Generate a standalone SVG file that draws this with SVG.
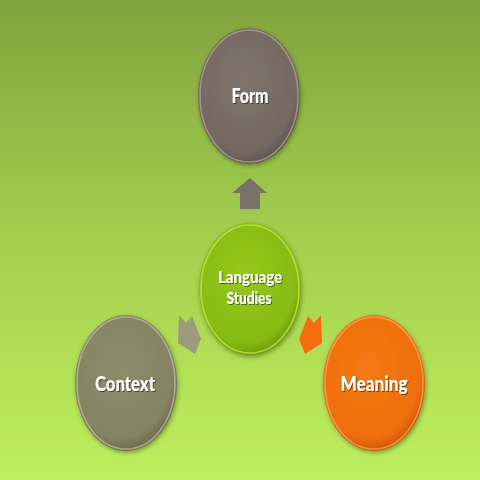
<svg xmlns="http://www.w3.org/2000/svg" width="480" height="480" viewBox="0 0 480 480">
<defs>
<linearGradient id="bg" x1="0" y1="0" x2="0" y2="1">
<stop offset="0" stop-color="#81a33d"/>
<stop offset="0.5" stop-color="#a4cf4e"/>
<stop offset="1" stop-color="#beef5e"/>
</linearGradient>
<radialGradient id="gForm" cx="0.45" cy="0.4" r="0.6">
<stop offset="0" stop-color="#7e746b"/>
<stop offset="0.85" stop-color="#736960"/>
<stop offset="1" stop-color="#5f564f"/>
</radialGradient>
<radialGradient id="gLang" cx="0.45" cy="0.4" r="0.6">
<stop offset="0" stop-color="#94c81c"/>
<stop offset="0.85" stop-color="#86bb12"/>
<stop offset="1" stop-color="#6e9e0c"/>
</radialGradient>
<radialGradient id="gCtx" cx="0.45" cy="0.4" r="0.6">
<stop offset="0" stop-color="#8d8c6c"/>
<stop offset="0.85" stop-color="#848362"/>
<stop offset="1" stop-color="#6c6b50"/>
</radialGradient>
<radialGradient id="gMean" cx="0.45" cy="0.4" r="0.6">
<stop offset="0" stop-color="#f57a14"/>
<stop offset="0.85" stop-color="#ee6e0a"/>
<stop offset="1" stop-color="#cf5a04"/>
</radialGradient>
<filter id="sh" x="-20%" y="-20%" width="140%" height="140%">
<feDropShadow dx="1" dy="2" stdDeviation="2" flood-color="#2a3a10" flood-opacity="0.45"/>
</filter>
<filter id="tsh" x="-20%" y="-30%" width="140%" height="160%">
<feDropShadow dx="1" dy="1" stdDeviation="0.6" flood-color="#000" flood-opacity="0.5"/>
</filter>
</defs>
<style>
.lbl{font-family:"Lato","Open Sans","DejaVu Sans",sans-serif;font-weight:900;fill:#ffffff;text-anchor:middle;filter:url(#tsh)}
.big{font-size:21px}
.small{font-size:16.5px}
.rim{fill:none;stroke-width:1.6;stroke-opacity:0.7}
</style>
<rect x="0" y="0" width="480" height="480" fill="url(#bg)"/>
<g id="connectors">
<polygon points="250,178 232,193 240,193 240,209 260,209 260,193 267,193" fill="#7a716a"/>
<polygon points="179,315 186,323 192,316 201,339 195,354 178,343" fill="#9c9b7c"/>
<polygon points="321,315 314,323 308,316 299,339 305,354 322,343" fill="#f46e10"/>
</g>
<g id="form">
<ellipse cx="249" cy="96" rx="51" ry="68" fill="url(#gForm)" filter="url(#sh)"/>
<ellipse cx="249" cy="96" rx="49" ry="66" class="rim" stroke="#b0a79e"/>
<text x="250" y="103" class="lbl big" textLength="37" lengthAdjust="spacingAndGlyphs">Form</text>
</g>
<g id="language-studies">
<ellipse cx="250" cy="289" rx="51" ry="66" fill="url(#gLang)" filter="url(#sh)"/>
<ellipse cx="250" cy="289" rx="49" ry="64" class="rim" stroke="#c8ec50"/>
<text x="250" y="283" class="lbl small" textLength="64" lengthAdjust="spacingAndGlyphs">Language</text>
<text x="249" y="304" class="lbl small" textLength="45" lengthAdjust="spacingAndGlyphs">Studies</text>
</g>
<g id="context">
<ellipse cx="126" cy="383" rx="51" ry="68" fill="url(#gCtx)" filter="url(#sh)"/>
<ellipse cx="126" cy="383" rx="49" ry="66" class="rim" stroke="#c0bf9c"/>
<text x="125" y="391" class="lbl big" textLength="60" lengthAdjust="spacingAndGlyphs">Context</text>
</g>
<g id="meaning">
<ellipse cx="374" cy="383" rx="51" ry="68" fill="url(#gMean)" filter="url(#sh)"/>
<ellipse cx="374" cy="383" rx="49" ry="66" class="rim" stroke="#f8a868"/>
<text x="374" y="391" class="lbl big" textLength="67" lengthAdjust="spacingAndGlyphs">Meaning</text>
</g>
</svg>
